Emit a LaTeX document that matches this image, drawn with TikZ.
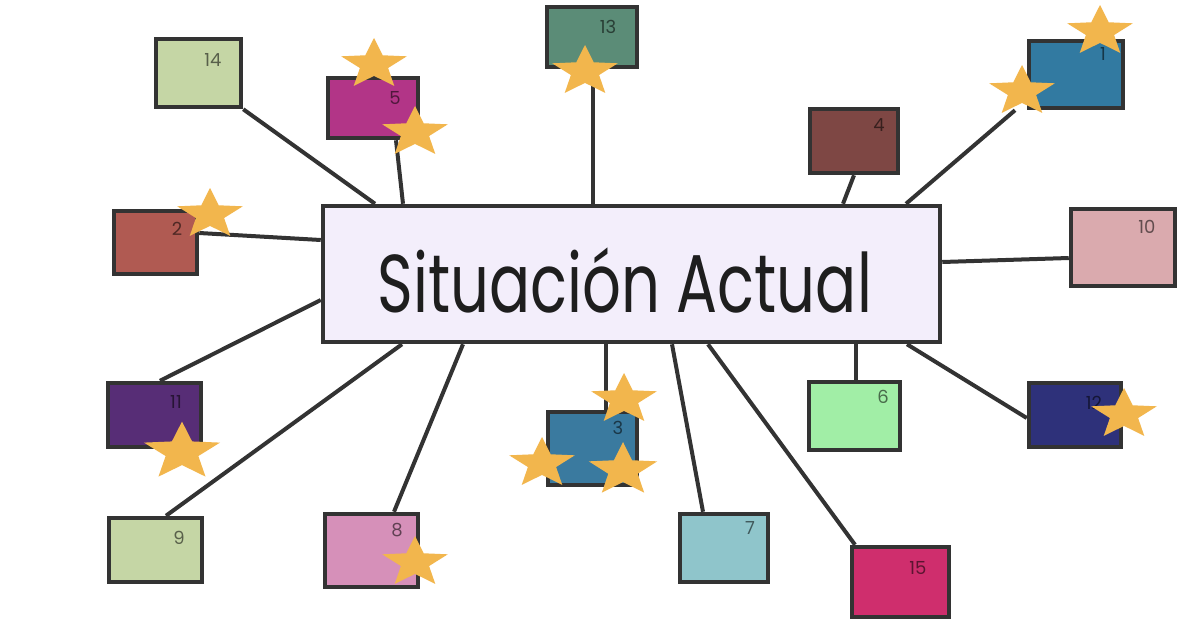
\documentclass[tikz,border=0pt]{standalone}
\usepackage{fontspec}
\usepackage{graphicx}
\newfontfamily\handfont{Poppins}
\usetikzlibrary{backgrounds}
\definecolor{strokec}{HTML}{333333}
\definecolor{textc}{HTML}{1E1E1E}
\definecolor{centc}{HTML}{F3EEFB}
\definecolor{starc}{HTML}{F2B64D}
\definecolor{cA}{HTML}{C5D6A5}
\definecolor{cB}{HTML}{B23587}
\definecolor{cC}{HTML}{5B8C77}
\definecolor{cD}{HTML}{7E4744}
\definecolor{cE}{HTML}{327AA1}
\definecolor{cF}{HTML}{DAAAAE}
\definecolor{cG}{HTML}{B05A52}
\definecolor{cH}{HTML}{572D76}
\definecolor{cI}{HTML}{D690B9}
\definecolor{cJ}{HTML}{3A7A9F}
\definecolor{cK}{HTML}{8FC5CB}
\definecolor{cL}{HTML}{A1EEA6}
\definecolor{cM}{HTML}{2E317A}
\definecolor{cN}{HTML}{CF2E6D}
\begin{document}
\begin{tikzpicture}[x=1pt,y=-1pt,
  box/.style={draw=strokec, line width=4.5pt, rectangle, inner sep=0pt},
  conn/.style={draw=strokec, line width=4pt},
  lab/.style={font=\handfont\fontsize{18}{18}\selectfont, text=black, text opacity=0.55, inner sep=0pt},
  mystar/.pic={\fill[starc] (-90:1) -- (-54:0.43) -- (-18:1) -- (18:0.43) -- (54:1) -- (90:0.43) -- (126:1) -- (162:0.43) -- (198:1) -- (234:0.43) -- cycle;}
]
\useasboundingbox (0,0) rectangle (1200,627);

% central box
\node[box, fill=centc, minimum width=617pt, minimum height=136pt] (c) at (631.5,274) {};
\node[font=\handfont\fontsize{82}{82}\selectfont, text=textc, anchor=base, inner sep=0pt] (title) at (625,312) {\resizebox{494pt}{\height}{Situación Actual}};

% boxes
\node[box, fill=cA, minimum width=85pt, minimum height=68pt] (b14) at (198.5,73) {};
\node[box, fill=cB, minimum width=90pt, minimum height=60pt] (b5) at (373,108) {};
\node[box, fill=cC, minimum width=90pt, minimum height=60pt] (b13) at (592,37) {};
\node[box, fill=cD, minimum width=88pt, minimum height=64pt] (b4) at (854,141) {};
\node[box, fill=cE, minimum width=94pt, minimum height=67pt] (b1) at (1076,74.5) {};
\node[box, fill=cF, minimum width=104pt, minimum height=77pt] (b10) at (1123,247.5) {};
\node[box, fill=cG, minimum width=83pt, minimum height=63pt] (b2) at (155.5,242.5) {};
\node[box, fill=cH, minimum width=93pt, minimum height=64pt] (b11) at (154.5,415) {};
\node[box, fill=cA, minimum width=93pt, minimum height=64pt] (b9) at (155.5,550) {};
\node[box, fill=cI, minimum width=93pt, minimum height=73pt] (b8) at (371.5,550.5) {};
\node[box, fill=cJ, minimum width=89pt, minimum height=73pt] (b3) at (592.5,448.5) {};
\node[box, fill=cK, minimum width=88pt, minimum height=68pt] (b7) at (724,548) {};
\node[box, fill=cL, minimum width=91pt, minimum height=68pt] (b6) at (854.5,416) {};
\node[box, fill=cM, minimum width=92pt, minimum height=64pt] (b12) at (1075,415) {};
\node[box, fill=cN, minimum width=97pt, minimum height=70pt] (b15) at (900.5,582) {};

% labels
\node[lab] (l14) at (213,60) {14};
\node[lab] (l5) at (395,98) {5};
\node[lab] (l13) at (608,27) {13};
\node[lab] (l4) at (879,125) {4};
\node[lab] (l1) at (1103,54) {1};
\node[lab] (l10) at (1147,227) {10};
\node[lab] (l2) at (177,229) {2};
\node[lab] (l11) at (176,402) {11};
\node[lab] (l9) at (179,538) {9};
\node[lab] (l8) at (397,530) {8};
\node[lab] (l3) at (618,428) {3};
\node[lab] (l7) at (750,528) {7};
\node[lab] (l6) at (883,397) {6};
\node[lab] (l12) at (1094,403) {12};
\node[lab] (l15) at (918,568) {15};

% connectors
\begin{scope}[on background layer]
\fill[white] (0,0) rectangle (1200,627);
\draw[conn] (b14.south east) -- (375,0 |- c.north);
\draw[conn] (396,0 |- b5.south) -- (403,0 |- c.north);
\draw[conn] (593,0 |- b13.south) -- (593,0 |- c.north);
\draw[conn] (854,0 |- b4.south) -- (843,0 |- c.north);
\draw[conn] (1015,0 |- b1.south) -- (906,0 |- c.north);
\draw[conn] (b10.west |- 0,258) -- (c.east |- 0,262);
\draw[conn] (b2.east |- 0,233) -- (c.west |- 0,240);
\draw[conn] (160,0 |- b11.north) -- (c.west |- 0,300);
\draw[conn] (166,0 |- b9.north) -- (402,0 |- c.south);
\draw[conn] (394,0 |- b8.north) -- (463,0 |- c.south);
\draw[conn] (606,0 |- b3.north) -- (606,0 |- c.south);
\draw[conn] (703,0 |- b7.north) -- (672,0 |- c.south);
\draw[conn] (856,0 |- b6.north) -- (856,0 |- c.south);
\draw[conn] (855,0 |- b15.north) -- (708,0 |- c.south);
\draw[conn] (b12.west |- 0,418) -- (907,0 |- c.south);
\end{scope}

% stars
\pic[xscale=34.5, yscale=26.5] at (374,64.5) {mystar};
\pic[xscale=34.5, yscale=26.5] at (415,132.5) {mystar};
\pic[xscale=34.5, yscale=26.5] at (210,214.5) {mystar};
\pic[xscale=34.5, yscale=26.5] at (585,71.5) {mystar};
\pic[xscale=34.5, yscale=26.5] at (1100,31.5) {mystar};
\pic[xscale=34.5, yscale=26.5] at (1022,91.5) {mystar};
\pic[xscale=40, yscale=30.4] at (182,452) {mystar};
\pic[xscale=34.5, yscale=26.5] at (415,562.5) {mystar};
\pic[xscale=34.5, yscale=26.5] at (624,399.5) {mystar};
\pic[xscale=34.5, yscale=26.5] at (542,463.5) {mystar};
\pic[xscale=36, yscale=28] at (623,470) {mystar};
\pic[xscale=34.5, yscale=26.5] at (1124,414.5) {mystar};
\end{tikzpicture}
\end{document}
